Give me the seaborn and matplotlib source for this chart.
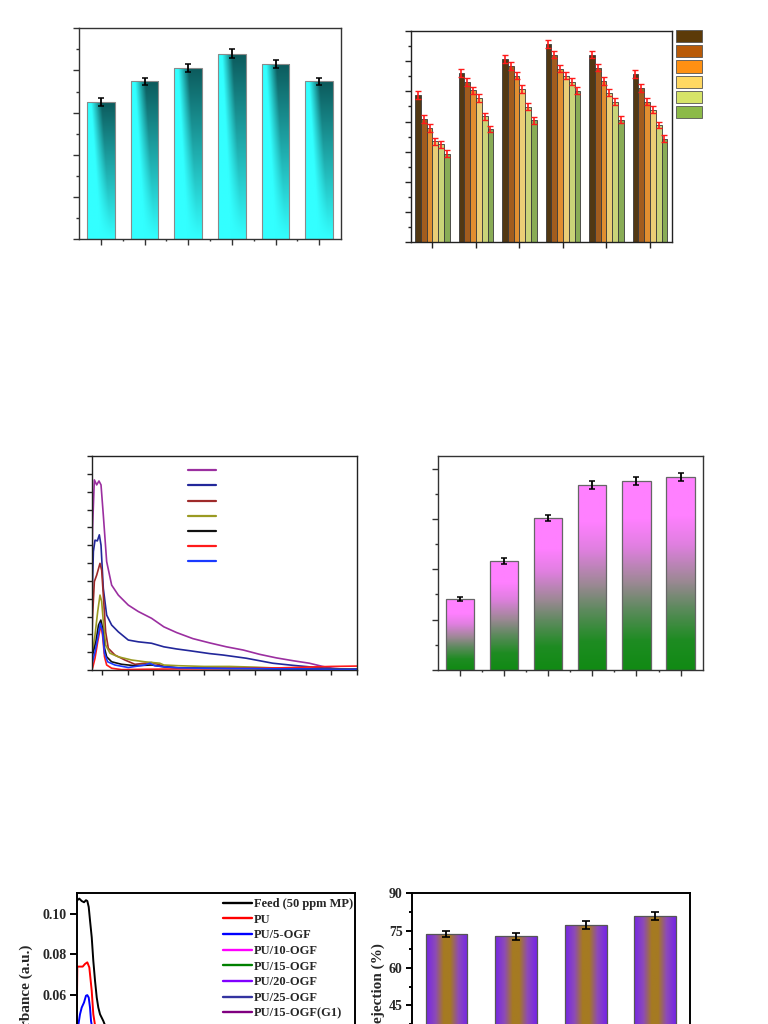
import numpy as np
import pandas as pd
import matplotlib
matplotlib.use("Agg")
import matplotlib.pyplot as plt
import seaborn as sns
from matplotlib.ticker import MultipleLocator, FixedLocator, FormatStrFormatter
from matplotlib.colors import to_rgb, LinearSegmentedColormap
from matplotlib.lines import Line2D
from matplotlib.patches import Patch

# ---------------- data ----------------
samples = ["PU", "PU/5-OGF", "PU/10-OGF", "PU/15-OGF", "PU/20-OGF", "PU/25-OGF"]

# panel A (top-left)
a_values = [163, 187, 203, 220, 208, 187]
a_errors = [4.5, 4.5, 5.0, 5.0, 4.5, 4.5]

# panel B (top-right), one list per series across the six samples
b_series = ["S1", "S2", "S3", "S4", "S5", "S6"]
b_s1 = [48.8, 56.0, 60.8, 65.7, 62.2, 55.8]
b_s2 = [40.9, 53.1, 58.3, 62.2, 57.9, 51.2]
b_s3 = [37.9, 50.3, 55.2, 57.5, 53.4, 46.6]
b_s4 = [33.5, 47.8, 50.8, 55.2, 49.6, 43.9]
b_s5 = [32.4, 41.7, 44.9, 53.2, 46.6, 38.8]
b_s6 = [29.4, 37.5, 40.4, 50.2, 40.6, 34.3]
b_errors = [1.3, 1.3, 1.2, 1.2, 1.1, 1.1]
b_colors = ["#5C3A08", "#B85A08", "#FF9012", "#FFD862", "#D6E468", "#8CBA48"]

# panel C (middle-left) curves
c_names = ["c1", "c2", "c3", "c4", "c5", "c6", "c7"]
c_colors = ["#9B2FA0", "#22279A", "#9E2A2A", "#9A9A22", "#111111", "#FF1A1A", "#1A3AFF"]
c_x1 = [-20.5, -19.1, -15.6, -11.0, -6.5, -2.5, 2.0, 8.6, 18.4, 31.5, 51.1, 70.7, 96.8, 121, 146, 178, 211, 244, 277, 309, 342, 375, 407, 433, 452, 470]
c_y1 = [25, 40, 53.3, 51.9, 53.0, 51.9, 43.5, 30.4, 23.8, 21.0, 18.2, 16.4, 14.5, 12.1, 10.5, 8.8, 7.6, 6.5, 5.6, 4.4, 3.4, 2.6, 1.9, 1.0, 0.5, 0.3]
c_x2 = [-20.5, -19.1, -17.5, -14.3, -9.7, -5.8, -2.5, 2.0, 8.6, 18.4, 31.5, 51.1, 70.7, 96.8, 121, 146, 172, 211, 237, 283, 335, 375, 414, 450, 480]
c_y2 = [15, 25, 33.2, 36.4, 36.2, 37.9, 35.0, 22.9, 15.4, 12.6, 10.7, 8.4, 7.9, 7.5, 6.5, 5.9, 5.4, 4.6, 4.2, 3.3, 1.9, 1.3, 0.8, 0.4, 0.1]
c_x3 = [-20.5, -19.1, -15.6, -11, -4.5, -1.2, 2, 6.6, 11.8, 24.8, 44.5, 64.1, 83.7, 96.8, 109.8, 121, 150, 200, 250, 300, 350, 400, 450, 500]
c_y3 = [8, 15, 24.8, 26.6, 29.9, 28.0, 21.0, 10.7, 6.1, 4.2, 2.8, 1.6, 1.9, 2.1, 1.6, 1.0, 0.5, 0.4, 0.5, 0.4, 0.3, 0.3, 0.2, 0.2]
c_x4 = [-20.5, -19.1, -14.3, -9, -4.5, -1.2, 2, 6.6, 15.1, 31.5, 57.7, 83.7, 113, 121, 150, 200, 250, 300, 350, 400, 450, 500]
c_y4 = [3, 5.1, 9.8, 16.4, 21.0, 19.2, 13.6, 7.0, 4.7, 3.7, 2.8, 2.3, 1.9, 1.4, 1.2, 1.0, 1.0, 0.8, 0.5, 0.4, 0.3, 0.2]
c_x5 = [-20.5, -19.1, -12.6, -7.4, -2.8, 0.5, 4.4, 8.6, 18.4, 38, 64.1, 96.8, 121, 150, 200, 250, 300, 350, 400, 450, 500]
c_y5 = [2, 4.2, 7.9, 12.6, 14.0, 11.7, 6.1, 3.7, 2.3, 1.6, 1.2, 1.4, 0.9, 0.6, 0.5, 0.4, 0.4, 0.3, 0.3, 0.2, 0.2]
c_x6 = [-20.5, -19.1, -14.3, -9, -2.8, 0.5, 4.4, 8.6, 18.4, 38, 80, 150, 250, 300, 350, 400, 450, 500]
c_y6 = [0.3, 0.5, 3.3, 7.9, 12.6, 9.8, 3.7, 1.4, 0.5, 0.1, 0.2, 0.3, 0.4, 0.5, 0.6, 0.8, 1.0, 1.1]
c_x7 = [-20.5, -19.1, -14.3, -9, -3.8, 0.5, 4.4, 10.5, 24.8, 51.1, 83.7, 93.5, 103.3, 121, 150, 200, 250, 300, 350, 400, 450, 500]
c_y7 = [1.5, 2.3, 5.1, 8.9, 13.1, 10.7, 4.7, 2.3, 1.4, 0.7, 1.4, 1.9, 1.2, 0.9, 0.6, 0.5, 0.4, 0.4, 0.3, 0.3, 0.2, 0.2]

# panel D (middle-right)
d_values = [28.1, 43.3, 60.3, 73.5, 75.2, 76.7]
d_errors = [0.8, 1.0, 1.2, 1.6, 1.6, 1.6]

# panel E (bottom-left) absorbance spectra
e_labels = ["Feed (50 ppm MP)", "PU", "PU/5-OGF", "PU/10-OGF", "PU/15-OGF",
            "PU/20-OGF", "PU/25-OGF", "PU/15-OGF(G1)"]
e_colors = ["#000000", "#FF0000", "#0000FF", "#FF00FF", "#008000", "#8000FF", "#3333A0", "#800080"]
e_x_feed = [200, 201.3, 205.6, 210.8, 215.8, 220, 222.9, 225.9, 228.7, 232.4, 235.8, 239.5, 243.2, 246.6, 250.3, 257.4, 270, 290, 320, 360, 420, 500, 600, 700, 800]
e_y_feed = [0.1060, 0.1066, 0.1074, 0.1062, 0.1056, 0.1066, 0.1062, 0.1033, 0.0967, 0.0884, 0.0769, 0.0671, 0.0588, 0.0539, 0.0506, 0.0473, 0.040, 0.030, 0.018, 0.010, 0.006, 0.004, 0.003, 0.002, 0.002]
e_x_pu = [200, 201.3, 212.9, 217.9, 222.9, 227.2, 232.4, 235.8, 239.5, 250, 270, 300, 350, 400, 500, 600, 800]
e_y_pu = [0.045, 0.0740, 0.0740, 0.0753, 0.0761, 0.0736, 0.0621, 0.0506, 0.0453, 0.035, 0.022, 0.012, 0.006, 0.004, 0.003, 0.002, 0.002]
e_x_5 = [200, 203.5, 207.1, 210.8, 215.8, 220, 222.9, 225.9, 228.7, 230.9, 232.4, 240, 260, 300, 350, 400, 500, 600, 800]
e_y_5 = [0.040, 0.0453, 0.0506, 0.0539, 0.0564, 0.0597, 0.0600, 0.0588, 0.0539, 0.0473, 0.0453, 0.036, 0.020, 0.010, 0.005, 0.003, 0.002, 0.002, 0.001]
e_x_rest = [200, 210, 222, 230, 240, 260, 300, 400, 600, 800]
e_y_10 = [0.030, 0.040, 0.043, 0.038, 0.028, 0.015, 0.008, 0.003, 0.002, 0.001]
e_y_15 = [0.026, 0.035, 0.038, 0.033, 0.024, 0.013, 0.007, 0.003, 0.002, 0.001]
e_y_20 = [0.022, 0.030, 0.033, 0.029, 0.021, 0.011, 0.006, 0.003, 0.002, 0.001]
e_y_25 = [0.028, 0.037, 0.040, 0.035, 0.026, 0.014, 0.007, 0.003, 0.002, 0.001]
e_y_g1 = [0.020, 0.027, 0.030, 0.026, 0.019, 0.010, 0.005, 0.002, 0.001, 0.001]
e_yticks = [0.06, 0.08, 0.10]

# panel F (bottom-right)
f_samples = ["PU", "PU/5-OGF", "PU/10-OGF", "PU/15-OGF"]
f_values = [73.6, 72.7, 77.4, 81.0]
f_errors = [1.3, 1.5, 1.6, 1.6]
f_yticks = [45, 60, 75, 90]

# ---------------- style ----------------
sns.set_style("ticks")
plt.rcParams['font.family'] = ['Liberation Serif', 'DejaVu Serif']
plt.rcParams['font.weight'] = 'bold'

W, H = 768, 1024
fig = plt.figure(figsize=(W / 100, H / 100), dpi=100)


def add_ax(l, t, r, b):
    return fig.add_axes([l / W, 1 - b / H, (r - l) / W, (b - t) / H])


def style(ax, lw=1.0, color="#222222", maj=4, mino=2.5):
    for s in ax.spines.values():
        s.set_visible(True)
        s.set_linewidth(lw)
        s.set_color(color)
    ax.tick_params(which="both", direction="out", width=lw, color=color)
    ax.tick_params(which="major", length=maj)
    ax.tick_params(which="minor", length=mino)
    ax.set_xlabel("")
    ax.set_ylabel("")


def gradient_fill(ax, patch, img):
    x0, y0 = patch.get_x(), patch.get_y()
    w, h = patch.get_width(), patch.get_height()
    im = ax.imshow(img, extent=[x0, x0 + w, y0, y0 + h], origin="lower",
                   aspect="auto", interpolation="bilinear",
                   zorder=patch.get_zorder() - 0.05)
    im.set_clip_path(patch)
    patch.set_facecolor("none")


def bar_centers(ax):
    return [p.get_x() + p.get_width() / 2 for p in ax.patches]


# gradient images
yy, xx = np.mgrid[0:1:120j, 0:1:60j]
cyan = np.array(to_rgb("#33FFFF"))
teal = np.array(to_rgb("#0C5A5C"))
a_start = 0.14 + 0.35 * (1 - yy)
tA = np.clip((xx - a_start) / 0.38, 0, 1) * yy ** 1.0
imgA = cyan[None, None, :] * (1 - tA[..., None]) + teal[None, None, :] * tA[..., None]

cmapD = LinearSegmentedColormap.from_list("d", [(0.0, "#118A14"), (0.15, "#1E8C22"), (0.32, "#5E8A5E"),
                                               (0.47, "#A08898"), (0.65, "#E07FE0"), (0.8, "#FF80FF"),
                                               (1.0, "#FF80FF")])
imgD = cmapD(yy)[..., :3]
cmapF = LinearSegmentedColormap.from_list("f", [(0.0, "#7626E6"), (0.22, "#8C4AB8"), (0.42, "#A57A22"),
                                               (0.58, "#A57A22"), (0.78, "#8C4AB8"), (1.0, "#7626E6")])
imgF = cmapF(xx)[..., :3]

# ---------------- panel A ----------------
axA = add_ax(79, 28.3, 341, 239.3)
dfA = pd.DataFrame({"sample": samples, "value": a_values})
sns.barplot(data=dfA, x="sample", y="value", color="#33FFFF", width=0.63,
            edgecolor="#8a8a8a", linewidth=0.8, errorbar=None, ax=axA)
for p in axA.patches:
    gradient_fill(axA, p, imgA)
axA.errorbar(bar_centers(axA), a_values, yerr=a_errors, fmt="none", ecolor="black",
             elinewidth=1.3, capsize=2.2, capthick=1.1, zorder=5)
axA.set_xlim(-0.5, 5.5)
axA.set_ylim(0, 250)
axA.yaxis.set_major_locator(MultipleLocator(50))
axA.yaxis.set_minor_locator(MultipleLocator(25))
axA.xaxis.set_minor_locator(FixedLocator(np.arange(0.5, 5, 1)))
style(axA, lw=1.0, color="#333333")
axA.tick_params(labelleft=False, labelbottom=False)
axA.tick_params(axis="x", which="minor", length=1.5)

# ---------------- panel B ----------------
axB = add_ax(410.7, 31, 671.7, 242.3)
b_all = [b_s1, b_s2, b_s3, b_s4, b_s5, b_s6]
dfB = pd.DataFrame({"sample": np.tile(samples, 6),
                    "series": np.repeat(b_series, 6),
                    "value": np.concatenate(b_all)})
sns.barplot(data=dfB, x="sample", y="value", hue="series", palette=b_colors,
            width=0.8, edgecolor="#3a3a3a", linewidth=0.6, errorbar=None,
            legend=False, ax=axB)
bx, by, be = [], [], []
centers = {}
for p in axB.patches:
    if p.get_height() <= 0:
        continue
    xc = p.get_x() + p.get_width() / 2
    centers.setdefault(int(round(xc)), []).append((xc, p.get_height()))
for g, lst in centers.items():
    lst.sort()
    for k, (xc, h) in enumerate(lst):
        bx.append(xc)
        by.append(h)
        be.append(b_errors[k])
axB.errorbar(bx, by, yerr=be, fmt="none", ecolor="#FF1A1A", elinewidth=1.2,
             capsize=2.0, capthick=1.0, zorder=5)
axB.set_xlim(-0.5, 5.5)
axB.set_ylim(0, 70)
axB.yaxis.set_major_locator(MultipleLocator(10))
axB.yaxis.set_minor_locator(MultipleLocator(5))
style(axB, lw=1.0, color="#222222")
axB.tick_params(labelleft=False, labelbottom=False)
b_handles = [Patch(facecolor=c, edgecolor="#555555", linewidth=0.6) for c in b_colors]
axB.legend(b_handles, [""] * 6, loc="upper left", bbox_to_anchor=(1.0153, 1.005),
           frameon=False, borderpad=0, borderaxespad=0, handlelength=1.92,
           handleheight=0.97, labelspacing=0.1, handletextpad=0, fontsize=10)

# ---------------- panel C ----------------
axC = add_ax(91.7, 456, 356.7, 670)
c_xs = [c_x1, c_x2, c_x3, c_x4, c_x5, c_x6, c_x7]
c_ys = [c_y1, c_y2, c_y3, c_y4, c_y5, c_y6, c_y7]
dfC = pd.concat([pd.DataFrame({"x": xs, "y": ys, "series": n})
                 for xs, ys, n in zip(c_xs, c_ys, c_names)], ignore_index=True)
sns.lineplot(data=dfC, x="x", y="y", hue="series", palette=c_colors,
             sort=False, estimator=None, linewidth=1.2, legend=False, ax=axC)
axC.set_xlim(-20.8, 500)
axC.set_ylim(0, 60)
axC.xaxis.set_major_locator(MultipleLocator(50))
axC.yaxis.set_major_locator(MultipleLocator(5))
style(axC, lw=1.0, color="#222222", maj=3.5)
axC.tick_params(labelleft=False, labelbottom=False)
c_handles = [Line2D([], [], color=c, lw=1.6) for c in c_colors]
axC.legend(c_handles, [""] * 7, loc="upper left", bbox_to_anchor=(0.363, 0.951),
           frameon=False, borderpad=0, borderaxespad=0, handlelength=2.5,
           labelspacing=0.48, handletextpad=0, fontsize=8)

# ---------------- panel D ----------------
axD = add_ax(437.7, 456, 702.7, 670)
dfD = pd.DataFrame({"sample": samples, "value": d_values})
sns.barplot(data=dfD, x="sample", y="value", color="#FF80FF", width=0.64,
            edgecolor="#666666", linewidth=0.9, errorbar=None, ax=axD)
for p in axD.patches:
    gradient_fill(axD, p, imgD)
axD.errorbar(bar_centers(axD), d_values, yerr=d_errors, fmt="none", ecolor="black",
             elinewidth=1.3, capsize=2.2, capthick=1.1, zorder=5)
axD.set_xlim(-0.5, 5.5)
axD.set_ylim(0, 85)
axD.yaxis.set_major_locator(MultipleLocator(20))
axD.yaxis.set_minor_locator(MultipleLocator(10))
axD.xaxis.set_minor_locator(FixedLocator(np.arange(0.5, 5, 1)))
style(axD, lw=1.0, color="#333333")
axD.tick_params(labelleft=False, labelbottom=False)
axD.tick_params(axis="x", which="minor", length=1.5)

# ---------------- panel E ----------------
axE = add_ax(76.7, 893.3, 355, 1117.3)
e_xs = [e_x_feed, e_x_pu, e_x_5, e_x_rest, e_x_rest, e_x_rest, e_x_rest, e_x_rest]
e_ys = [e_y_feed, e_y_pu, e_y_5, e_y_10, e_y_15, e_y_20, e_y_25, e_y_g1]
dfE = pd.concat([pd.DataFrame({"x": xs, "y": ys, "sample": n})
                 for xs, ys, n in zip(e_xs, e_ys, e_labels)], ignore_index=True)
order_draw = e_labels[::-1]
sns.lineplot(data=dfE, x="x", y="y", hue="sample", hue_order=order_draw,
             palette=e_colors[::-1], sort=False, estimator=None, linewidth=1.4,
             legend=False, ax=axE)
axE.set_xlim(200, 800)
axE.set_ylim(0, 0.11)
axE.yaxis.set_major_locator(FixedLocator(e_yticks))
axE.yaxis.set_major_formatter(FormatStrFormatter("%.2f"))
style(axE, lw=1.4, color="black", maj=5)
axE.tick_params(labelsize=10, pad=2, labelbottom=False)
for t in axE.get_yticklabels():
    t.set_fontweight("bold")
axE.set_ylabel("Absorbance (a.u.)", fontsize=11, fontweight="bold")
axE.yaxis.set_label_coords(-0.158, 0.515)
e_handles = [Line2D([], [], color=c, lw=1.7) for c in e_colors]
leg = axE.legend(e_handles, e_labels, loc="upper left", bbox_to_anchor=(0.5246, 0.978),
                 frameon=False, borderpad=0, borderaxespad=0, handlelength=2.32,
                 handletextpad=0.18, labelspacing=0.29,
                 prop={"family": "Liberation Serif", "weight": "bold", "size": 9})

# ---------------- panel F ----------------
axF = add_ax(411.7, 893.3, 690, 1117.3)
dfF = pd.DataFrame({"sample": f_samples, "value": f_values})
sns.barplot(data=dfF, x="sample", y="value", color="#7626E6", width=0.6,
            edgecolor="#555555", linewidth=0.9, errorbar=None, ax=axF)
for p in axF.patches:
    gradient_fill(axF, p, imgF)
axF.errorbar(bar_centers(axF), f_values, yerr=f_errors, fmt="none", ecolor="black",
             elinewidth=1.3, capsize=3, capthick=1.2, zorder=5)
axF.set_xlim(-0.5, 3.5)
axF.set_ylim(0, 90)
axF.yaxis.set_major_locator(FixedLocator(f_yticks))
axF.yaxis.set_minor_locator(FixedLocator([37.5, 52.5, 67.5, 82.5]))
style(axF, lw=1.4, color="black", maj=4.5, mino=2.5)
axF.tick_params(labelsize=10, pad=2, labelbottom=False)
for t in axF.get_yticklabels():
    t.set_fontweight("bold")
axF.set_ylabel("Rejection (%)", fontsize=11, fontweight="bold")
axF.yaxis.set_label_coords(-0.096, 0.573)

fig.savefig("out.png", dpi=100)
